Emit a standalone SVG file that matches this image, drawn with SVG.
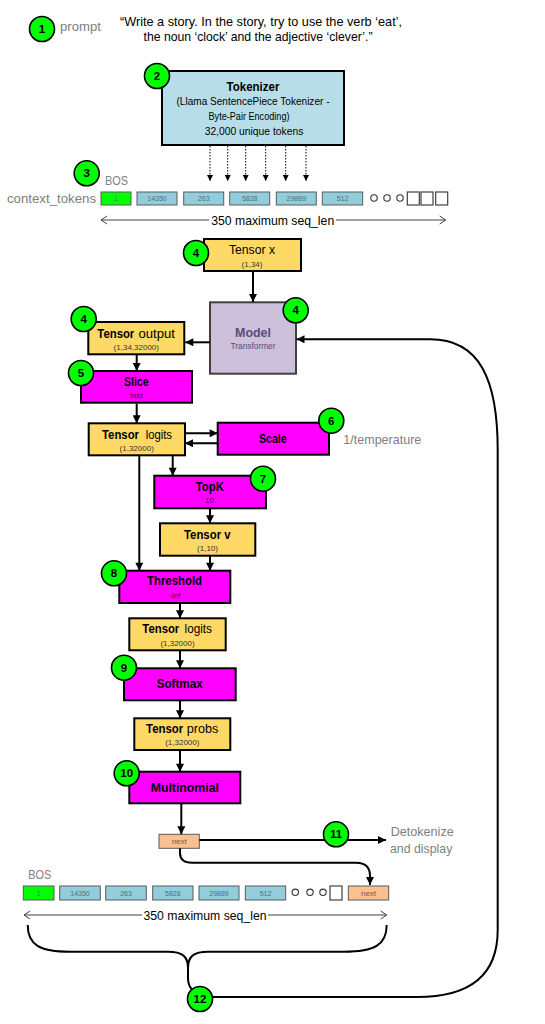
<svg xmlns="http://www.w3.org/2000/svg" width="545" height="1024" viewBox="0 0 545 1024">
<style>
text{font-family:"Liberation Sans",Arial,sans-serif;}
.num{fill:#00ff00;stroke:#000;stroke-width:1.6;}
.nt{font-size:11.5px;font-weight:bold;text-anchor:middle;fill:#000;}
.box{stroke:#000;stroke-width:2;}
.tensor{fill:#ffd966;}
.op{fill:#ff00ff;}
.t13{font-size:13px;text-anchor:middle;fill:#000;}
.l13{font-size:13px;fill:#000;}
.b{font-weight:bold;}
.sub{font-size:8px;text-anchor:middle;fill:#333;}
.opsub{font-size:8px;text-anchor:middle;fill:#4a004a;}
.grey{font-size:13px;fill:#808080;}
.tok{fill:#92cddc;stroke:#5a5a5a;stroke-width:1;}
.bos{fill:#00ff00;stroke:#5a5a5a;stroke-width:1;}
.nx{fill:#fac090;stroke:#5a5a5a;stroke-width:1;}
.tt{font-size:7px;text-anchor:middle;fill:#4e6e7e;}
.dot{fill:none;stroke:#333;stroke-width:1.1;}
.sq{fill:#fff;stroke:#404040;stroke-width:1.2;}
.c{fill:none;stroke:#000;stroke-width:2;}
.rng{fill:none;stroke:#404040;stroke-width:1;}
</style>
<defs>
<marker id="ah" viewBox="0 0 10 10" refX="10" refY="5" markerWidth="9" markerHeight="8" markerUnits="userSpaceOnUse" orient="auto"><path d="M0,0L10,5L0,10z" fill="#000"/></marker>
<marker id="ahs" viewBox="0 0 10 10" refX="10" refY="5" markerWidth="6" markerHeight="6" markerUnits="userSpaceOnUse" orient="auto"><path d="M0,0L10,5L0,10z" fill="#000"/></marker>
</defs>

<g id="prompt">
<circle class="num" cx="42" cy="29" r="12.5"/><text class="nt" x="42" y="33">1</text>
<text class="grey" x="60" y="31" textLength="41" lengthAdjust="spacingAndGlyphs">prompt</text>
<text class="t13" x="261" y="26" textLength="282" lengthAdjust="spacingAndGlyphs">“Write a story. In the story, try to use the verb ‘eat’,</text>
<text class="t13" x="258" y="41" textLength="229" lengthAdjust="spacingAndGlyphs">the noun ‘clock’ and the adjective ‘clever’.”</text>
</g>

<g id="tokenizer">
<rect x="162" y="71" width="182" height="74" fill="#b7dee8" class="box"/>
<text class="t13 b" x="253" y="91" textLength="53" lengthAdjust="spacingAndGlyphs">Tokenizer</text>
<text class="t13" style="font-size:11px" x="253" y="104.5" textLength="153" lengthAdjust="spacingAndGlyphs">(Llama SentencePiece Tokenizer -</text>
<text class="t13" style="font-size:11px" x="249" y="119.5" textLength="81" lengthAdjust="spacingAndGlyphs">Byte-Pair Encoding)</text>
<text class="t13" style="font-size:11px" x="254" y="134.5" textLength="98.7" lengthAdjust="spacingAndGlyphs">32,000 unique tokens</text>
<circle class="num" cx="157" cy="76" r="12.5"/><text class="nt" x="157" y="80">2</text>
</g>

<g id="context_tokens">
<circle class="num" cx="86.7" cy="173.3" r="12.5"/><text class="nt" x="86.7" y="177.3">3</text>
<text class="grey" style="font-size:12px" x="105" y="184.5" textLength="23" lengthAdjust="spacingAndGlyphs">BOS</text>
<text class="grey" x="7" y="202.5" textLength="89" lengthAdjust="spacingAndGlyphs">context_tokens</text>
<rect class="bos" x="101" y="192" width="30" height="13"/><text class="tt" x="116" y="200.5">1</text>
<rect class="tok" x="137" y="192" width="40" height="13"/><text class="tt" x="157" y="200.5">14350</text>
<rect class="tok" x="183.7" y="192" width="40" height="13"/><text class="tt" x="203.7" y="200.5">263</text>
<rect class="tok" x="229.7" y="192" width="40" height="13"/><text class="tt" x="249.7" y="200.5">5828</text>
<rect class="tok" x="276.3" y="192" width="40" height="13"/><text class="tt" x="296.3" y="200.5">29889</text>
<rect class="tok" x="322.3" y="192" width="40.4" height="13"/><text class="tt" x="342.5" y="200.5">512</text>
<circle class="dot" cx="374" cy="198" r="3.2"/><circle class="dot" cx="387" cy="198" r="3.2"/><circle class="dot" cx="400" cy="198" r="3.2"/>
<rect class="sq" x="407.3" y="192" width="12" height="13"/><rect class="sq" x="421" y="192" width="12" height="13"/><rect class="sq" x="435.7" y="192" width="12" height="13"/>
<path class="rng" d="M101,220H209M336,220H445.7M107,216L101,220L107,224M439.7,216L445.7,220L439.7,224"/>
<text class="t13" x="272.7" y="224.5" textLength="123" lengthAdjust="spacingAndGlyphs">350 maximum seq_len</text>
</g>

<g id="tensor_x">
<rect x="204" y="239" width="97" height="32" class="box tensor"/>
<text class="t13" x="252" y="253.5" textLength="46" lengthAdjust="spacingAndGlyphs">Tensor x</text>
<text class="sub" x="252" y="266.5">(1,34)</text>
<circle class="num" cx="196" cy="253" r="12.5"/><text class="nt" x="196" y="257">4</text>
</g>

<g id="model">
<rect x="210" y="302.3" width="86" height="71.4" fill="#ccc0da" stroke="#404040" stroke-width="2"/>
<text class="t13 b" style="fill:#5f497a" x="253" y="336.5" textLength="36" lengthAdjust="spacingAndGlyphs">Model</text>
<text class="t13" style="font-size:9px;fill:#5f497a" x="253" y="349" textLength="45" lengthAdjust="spacingAndGlyphs">Transformer</text>
<circle class="num" cx="295.7" cy="310.3" r="12.5"/><text class="nt" x="295.7" y="314.3">4</text>
</g>

<g id="tensor_output">
<rect x="88.3" y="322" width="96" height="32.3" class="box tensor"/>
<text class="l13 b" x="97.3" y="337.5" textLength="37" lengthAdjust="spacingAndGlyphs">Tensor</text>
<text class="l13" x="138.5" y="337.5" textLength="36.5" lengthAdjust="spacingAndGlyphs">output</text>
<text class="sub" x="136.3" y="349.8">(1,34,32000)</text>
<circle class="num" cx="83.7" cy="319" r="12.5"/><text class="nt" x="83.7" y="323">4</text>
</g>

<g id="slice">
<rect x="81" y="371" width="111" height="31.7" class="box op"/>
<text class="t13 b" x="136.3" y="385.5" textLength="24.7" lengthAdjust="spacingAndGlyphs">Slice</text>
<text class="opsub" x="136.5" y="397.8">last</text>
<circle class="num" cx="81" cy="373" r="12.5"/><text class="nt" x="81" y="377">5</text>
</g>

<g id="tensor_logits">
<rect x="88.7" y="423.3" width="96.3" height="32" class="box tensor"/>
<text class="l13 b" x="102" y="438.5" textLength="37" lengthAdjust="spacingAndGlyphs">Tensor</text>
<text class="l13" x="145.7" y="438.5" textLength="26.3" lengthAdjust="spacingAndGlyphs">logits</text>
<text class="sub" x="136.7" y="450.5">(1,32000)</text>
</g>

<g id="scale">
<rect x="217.7" y="422.7" width="111.3" height="32" class="box op"/>
<text class="t13 b" x="272.8" y="443.2" textLength="27.7" lengthAdjust="spacingAndGlyphs">Scale</text>
<circle class="num" cx="331.3" cy="420.7" r="12.5"/><text class="nt" x="331.3" y="424.7">6</text>
<text class="grey" x="343.3" y="443.8" textLength="78" lengthAdjust="spacingAndGlyphs">1/temperature</text>
</g>

<g id="topk">
<rect x="154.3" y="475.7" width="111.7" height="32.6" class="box op"/>
<text class="t13 b" x="209.8" y="491" textLength="28" lengthAdjust="spacingAndGlyphs">TopK</text>
<text class="opsub" x="209.5" y="503">10</text>
<circle class="num" cx="263" cy="478.7" r="12.5"/><text class="nt" x="263" y="482.7">7</text>
</g>

<g id="tensor_v">
<rect x="160" y="523.3" width="95.3" height="32.4" class="box tensor"/>
<text class="t13 b" x="207.3" y="538.5" textLength="46.7" lengthAdjust="spacingAndGlyphs">Tensor v</text>
<text class="sub" x="207.5" y="551">(1,10)</text>
</g>

<g id="threshold">
<rect x="119.3" y="570.7" width="111" height="32.3" class="box op"/>
<text class="t13 b" x="174.5" y="585" textLength="55" lengthAdjust="spacingAndGlyphs">Threshold</text>
<text class="opsub" x="175" y="597.8">-inf</text>
<circle class="num" cx="114" cy="573.3" r="12.5"/><text class="nt" x="114" y="577.3">8</text>
</g>

<g id="tensor_logits2">
<rect x="129.3" y="618.3" width="96.4" height="32" class="box tensor"/>
<text class="l13 b" x="142.3" y="633.2" textLength="37" lengthAdjust="spacingAndGlyphs">Tensor</text>
<text class="l13" x="184.6" y="633.2" textLength="27.4" lengthAdjust="spacingAndGlyphs">logits</text>
<text class="sub" x="177.5" y="645.6">(1,32000)</text>
</g>

<g id="softmax">
<rect x="124" y="668.3" width="111.7" height="32" class="box op"/>
<text class="t13 b" x="179.7" y="688.2" textLength="46" lengthAdjust="spacingAndGlyphs">Softmax</text>
<circle class="num" cx="124" cy="667.7" r="12.5"/><text class="nt" x="124" y="671.7">9</text>
</g>

<g id="tensor_probs">
<rect x="134.3" y="718.3" width="96" height="31.7" class="box tensor"/>
<text class="l13 b" x="146" y="733.2" textLength="37.3" lengthAdjust="spacingAndGlyphs">Tensor</text>
<text class="l13" x="186.7" y="733.2" textLength="31.6" lengthAdjust="spacingAndGlyphs">probs</text>
<text class="sub" x="182.3" y="745">(1,32000)</text>
</g>

<g id="multinomial">
<rect x="129.3" y="771.7" width="111" height="31.6" class="box op"/>
<text class="t13 b" x="184.8" y="791.8" textLength="68.3" lengthAdjust="spacingAndGlyphs">Multinomial</text>
<circle class="num" cx="126.7" cy="773.3" r="12.5"/><text class="nt" x="126.7" y="777.3">10</text>
</g>

<g id="next">
<rect class="nx" x="159" y="834.3" width="40.3" height="14"/>
<text class="tt" style="font-size:8px;fill:#7a5a40" x="179.2" y="844">next</text>
</g>

<g id="detokenize">
<text class="grey" x="390.7" y="835.5" textLength="63" lengthAdjust="spacingAndGlyphs">Detokenize</text>
<text class="grey" x="390" y="852.5" textLength="62.3" lengthAdjust="spacingAndGlyphs">and display</text>
</g>

<g id="output_tokens">
<text class="grey" style="font-size:12px" x="28.3" y="878.5" textLength="23" lengthAdjust="spacingAndGlyphs">BOS</text>
<rect class="bos" x="23.3" y="886" width="30.7" height="14"/><text class="tt" x="38.7" y="895.5">1</text>
<rect class="tok" x="59.7" y="886" width="40.6" height="14"/><text class="tt" x="80" y="895.5">14350</text>
<rect class="tok" x="105.7" y="886" width="40.6" height="14"/><text class="tt" x="126" y="895.5">263</text>
<rect class="tok" x="152.7" y="886" width="40.3" height="14"/><text class="tt" x="172.8" y="895.5">5828</text>
<rect class="tok" x="199" y="886" width="40" height="14"/><text class="tt" x="219" y="895.5">29889</text>
<rect class="tok" x="245.3" y="886" width="40.4" height="14"/><text class="tt" x="265.5" y="895.5">512</text>
<circle class="dot" cx="295.3" cy="892.3" r="3.2"/><circle class="dot" cx="310" cy="892.3" r="3.2"/><circle class="dot" cx="323" cy="892.3" r="3.2"/>
<rect class="sq" x="330" y="886" width="12" height="14"/>
<rect class="nx" x="348.3" y="886" width="40.4" height="14"/><text class="tt" style="font-size:8px;fill:#7a5a40" x="368.5" y="896">next</text>
<path class="rng" d="M24,915H142M268,915H386.7M30,911L24,915L30,919M380.7,911L386.7,915L380.7,919"/>
<text class="t13" x="205" y="919.5" textLength="123" lengthAdjust="spacingAndGlyphs">350 maximum seq_len</text>
</g>

<g id="connectors">
<g stroke="#000" stroke-width="1" stroke-dasharray="1.5 1.5" fill="none" marker-end="url(#ahs)">
<path d="M210,146V181"/><path d="M227.7,146V181"/><path d="M245.7,146V181"/><path d="M265.7,146V181"/><path d="M285.7,146V181"/><path d="M306,146V181"/>
</g>
<g class="c" marker-end="url(#ah)">
<path d="M253,272V302"/>
<path d="M210,342.3H185.3"/>
<path d="M136.7,355V371"/>
<path d="M136.7,403.7V423.3"/>
<path d="M185,433.3H217.7"/>
<path d="M217.7,443.3H185"/>
<path d="M172.7,455.3V475.7"/>
<path d="M139.3,455.3V570.7"/>
<path d="M210,508.3V523.3"/>
<path d="M210,555.7V570.7"/>
<path d="M180,603V618.3"/>
<path d="M180,650.3V668.3"/>
<path d="M180,700.3V718.3"/>
<path d="M180,750V771.7"/>
<path d="M181.3,803.3V834.3"/>
<path d="M199.3,840H386"/>
<path d="M180,848.3V853C180,860 184,862.7 192,862.7H356C366,862.7 370,868 370,876V885"/>
<path d="M212.5,997H417C470,997 497.7,975 497.7,930V450C497.7,380 480,339.3 430,339.3H296.5"/>
</g>
<path class="c" d="M27.7,925C27.7,945 40,951.7 70,951.7H168C182,951.7 188,956 188,968V978C188,983 189,986 191.5,989"/>
<path class="c" d="M386.7,925C386.7,945 374,951.7 344,951.7H208C194,951.7 188,956 188,968"/>
</g>

<g id="detok_badge">
<circle class="num" cx="336" cy="834.3" r="12.5"/><text class="nt" x="336" y="838.3">11</text>
</g>
<g id="loop_badge">
<circle class="num" cx="200" cy="999" r="12.5"/><text class="nt" x="200" y="1003">12</text>
</g>
</svg>
